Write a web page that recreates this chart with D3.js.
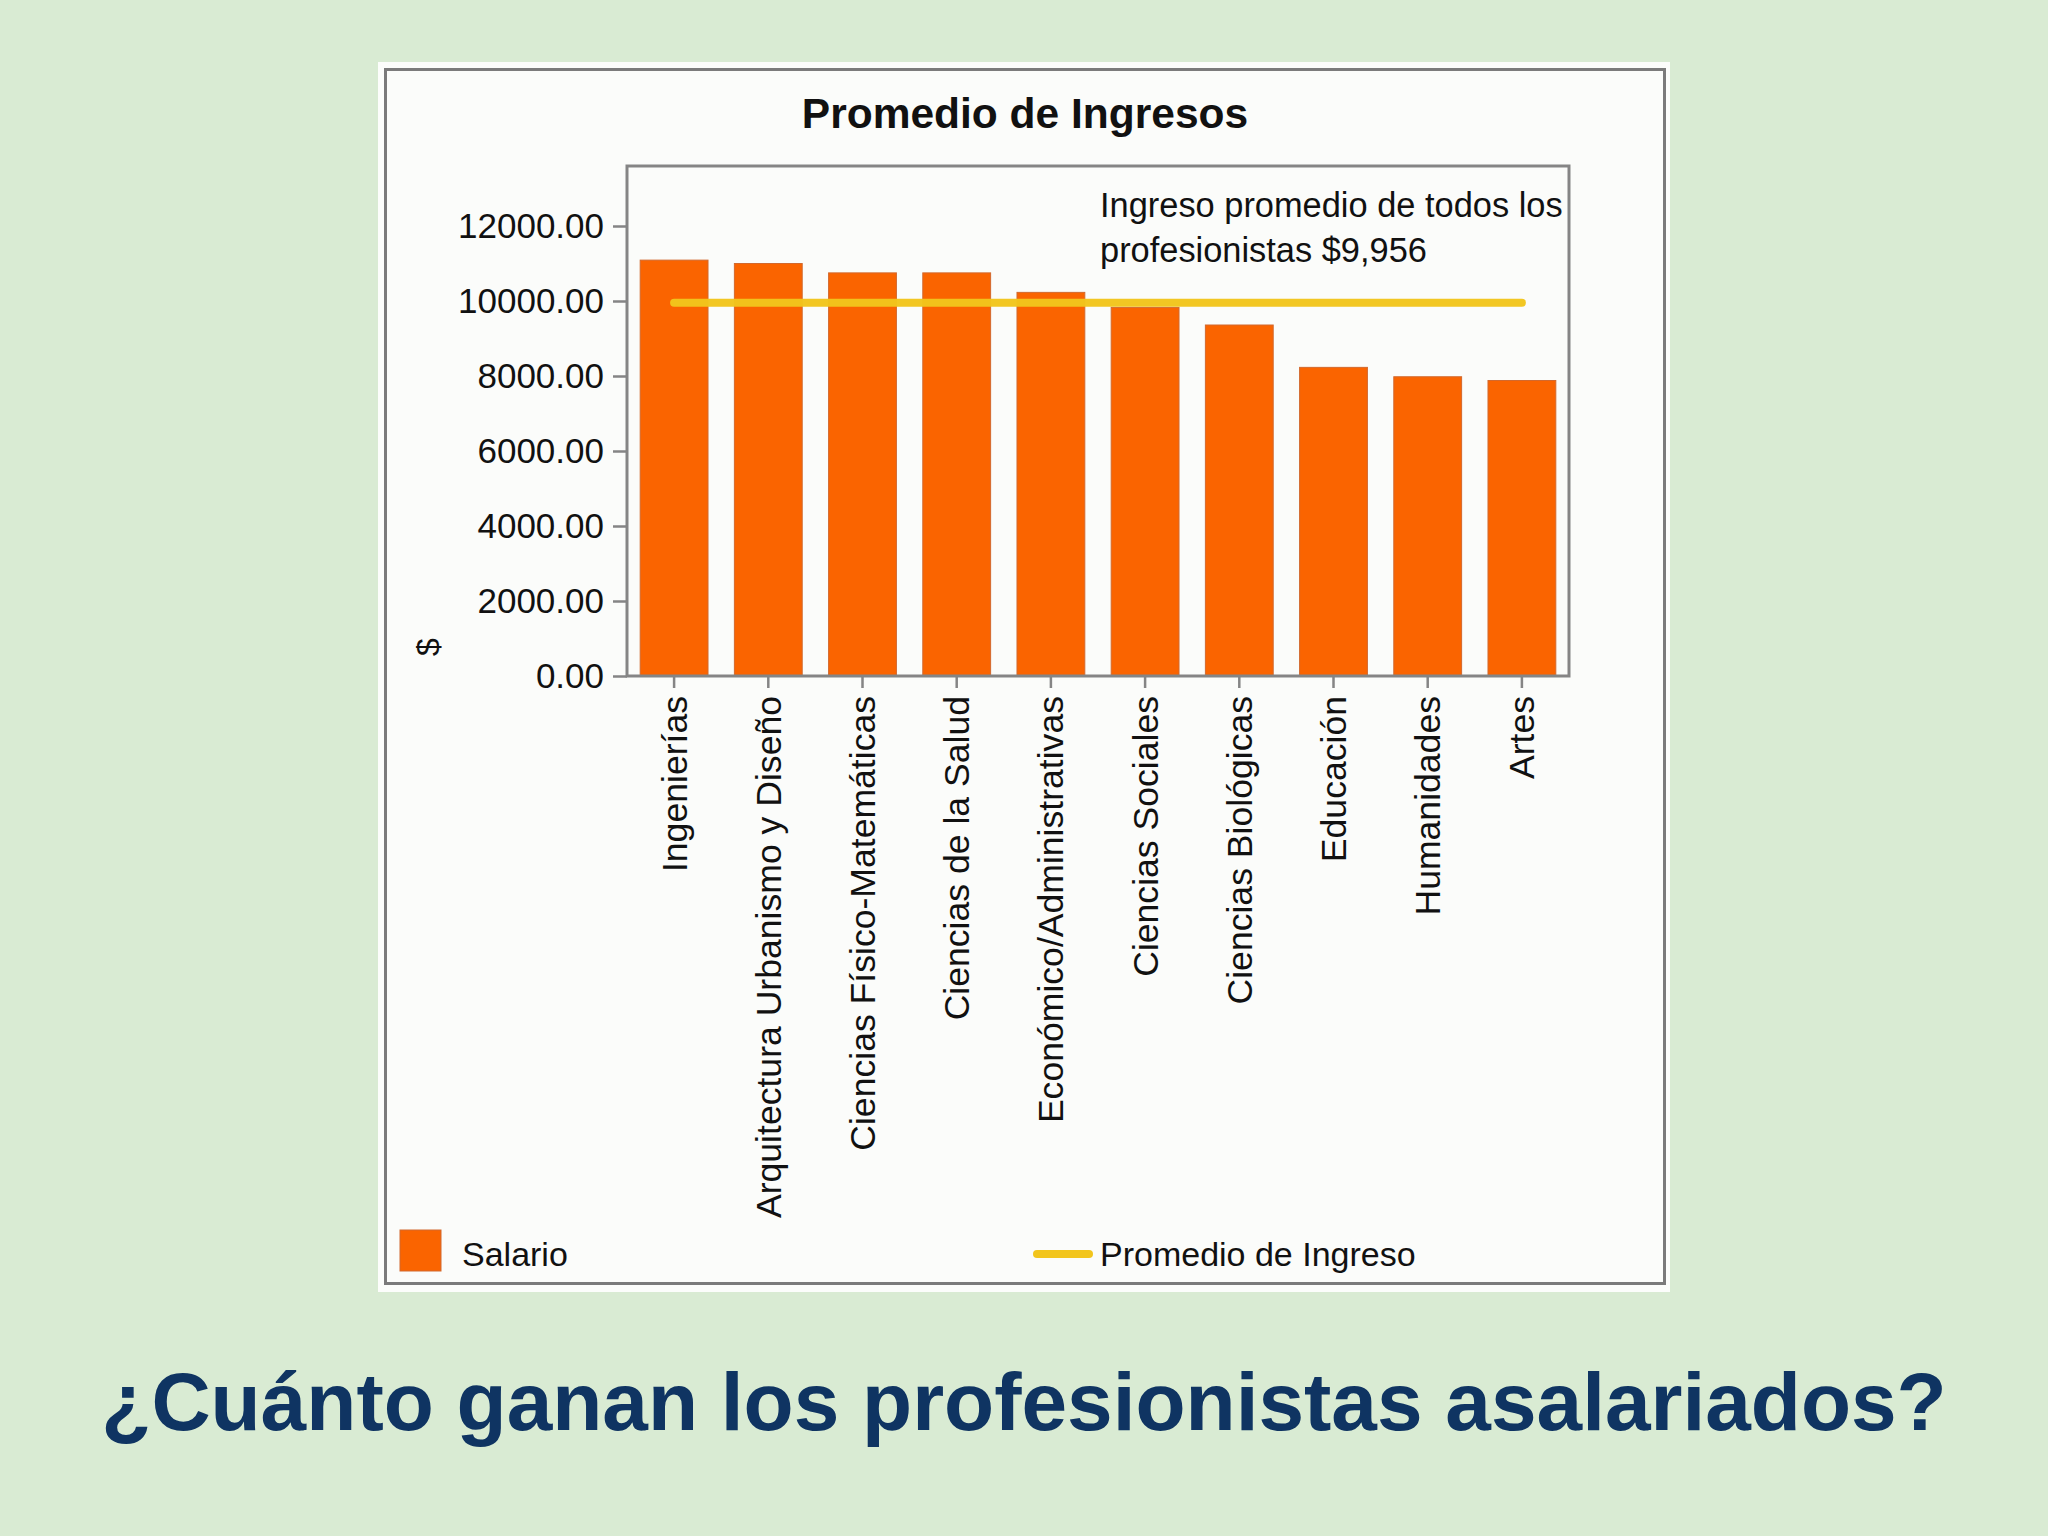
<!DOCTYPE html>
<html>
<head>
<meta charset="utf-8">
<script src="https://cdn.jsdelivr.net/npm/d3@7"></script>
<style>
  html, body { margin: 0; padding: 0; background: #d9ebd3; }
  svg { display: block; }
</style>
</head>
<body>
<svg id="chart" width="2048" height="1536"></svg>
<script>
const categories = ["Ingenierías", "Arquitectura Urbanismo y Diseño", "Ciencias Físico-Matemáticas",
  "Ciencias de la Salud", "Económico/Administrativas", "Ciencias Sociales", "Ciencias Biológicas",
  "Educación", "Humanidades", "Artes"];
const salario = [11090, 11000, 10750, 10750, 10230, 9830, 9360, 8230, 7980, 7880];
const promedio = 9956;
const yTicks = [0, 2000, 4000, 6000, 8000, 10000, 12000];
const chartTitle = "Promedio de Ingresos";
const annotation = ["Ingreso promedio de todos los", "profesionistas $9,956"];
const yLabel = "$";
const legendBar = "Salario";
const legendLine = "Promedio de Ingreso";
const slideTitle = "¿Cuánto ganan los profesionistas asalariados?";

const svg = d3.select("#chart");
const font = "Arial, 'Liberation Sans', sans-serif";

// slide background
svg.append("rect").attr("width", 2048).attr("height", 1536).attr("fill", "#d9ebd3");

// chart panel
svg.append("rect").attr("x", 378).attr("y", 62).attr("width", 1292).attr("height", 1230).attr("fill", "#fcfdfb");
svg.append("rect").attr("x", 385.5).attr("y", 69.5).attr("width", 1279).attr("height", 1214)
  .attr("fill", "#fbfcfa").attr("stroke", "#7b7b7b").attr("stroke-width", 3);

const plot = { left: 627, right: 1569, top: 166, bottom: 676 };

const x = d3.scaleBand().domain(categories).range([plot.left, plot.right])
  .paddingInner(0.28).paddingOuter(0.14);
const y = d3.scaleLinear().domain([0, 13600]).range([plot.bottom, plot.top]);

// title
svg.append("text").attr("x", 1025).attr("y", 128).attr("text-anchor", "middle")
  .attr("font-family", font).attr("font-weight", "bold").attr("font-size", 42.5)
  .attr("fill", "#111").text(chartTitle);

// bars
svg.append("g").selectAll("rect").data(categories).join("rect")
  .attr("x", d => x(d)).attr("width", x.bandwidth())
  .attr("y", (d, i) => y(salario[i])).attr("height", (d, i) => y(0) - y(salario[i]))
  .attr("fill", "#fa6400").attr("stroke", "#d2692e").attr("stroke-width", 1);

// average line
const lineGen = d3.line().x(d => x(d) + x.bandwidth() / 2).y(() => y(promedio));
svg.append("path").datum([categories[0], categories[categories.length - 1]])
  .attr("d", lineGen).attr("fill", "none").attr("stroke", "#f2c51c")
  .attr("stroke-width", 8).attr("stroke-linecap", "round").attr("opacity", 0.97);

// frame
svg.append("rect").attr("x", plot.left).attr("y", plot.top)
  .attr("width", plot.right - plot.left).attr("height", plot.bottom - plot.top)
  .attr("fill", "none").attr("stroke", "#858585").attr("stroke-width", 3);

// y axis
const yAxis = svg.append("g").attr("transform", `translate(${plot.left},0)`)
  .call(d3.axisLeft(y).tickValues(yTicks).tickFormat(d3.format(".2f")).tickSize(14).tickPadding(9));
yAxis.select(".domain").remove();
yAxis.selectAll(".tick line").attr("stroke", "#858585").attr("stroke-width", 2.5);
yAxis.selectAll(".tick text").attr("font-family", font).attr("font-size", 35).attr("fill", "#111");

// x axis
const xAxis = svg.append("g").attr("transform", `translate(0,${plot.bottom})`)
  .call(d3.axisBottom(x).tickSize(12).tickPadding(8));
xAxis.select(".domain").remove();
xAxis.selectAll(".tick line").attr("stroke", "#858585").attr("stroke-width", 2.5);
xAxis.selectAll(".tick text").attr("font-family", font).attr("font-size", 35.6).attr("fill", "#111")
  .attr("transform", "rotate(-90)").attr("text-anchor", "end")
  .attr("x", -20).attr("y", 0).attr("dy", "0.35em");

// y label
svg.append("text").attr("transform", "translate(428,647) rotate(-90)")
  .attr("text-anchor", "middle").attr("dy", "0.35em")
  .attr("font-family", font).attr("font-size", 32).attr("fill", "#111").text(yLabel);

// annotation
svg.append("g").selectAll("text").data(annotation).join("text")
  .attr("x", 1100).attr("y", (d, i) => 217 + i * 45)
  .attr("font-family", font).attr("font-size", 34.4).attr("fill", "#111").text(d => d);

// legend
svg.append("rect").attr("x", 400).attr("y", 1230).attr("width", 41).attr("height", 41)
  .attr("fill", "#fa6400").attr("stroke", "#d2692e").attr("stroke-width", 1);
svg.append("text").attr("x", 462).attr("y", 1266).attr("font-family", font).attr("font-size", 34)
  .attr("fill", "#111").text(legendBar);
svg.append("line").attr("x1", 1037).attr("x2", 1089).attr("y1", 1254).attr("y2", 1254)
  .attr("stroke", "#f2c51c").attr("stroke-width", 8).attr("stroke-linecap", "round");
svg.append("text").attr("x", 1100).attr("y", 1266).attr("font-family", font).attr("font-size", 34)
  .attr("fill", "#111").text(legendLine);

// slide title
svg.append("text").attr("x", 1024).attr("y", 1430).attr("text-anchor", "middle")
  .attr("font-family", font).attr("font-weight", "bold").attr("font-size", 82)
  .attr("fill", "#0f3462").text(slideTitle);
</script>
</body>
</html>
